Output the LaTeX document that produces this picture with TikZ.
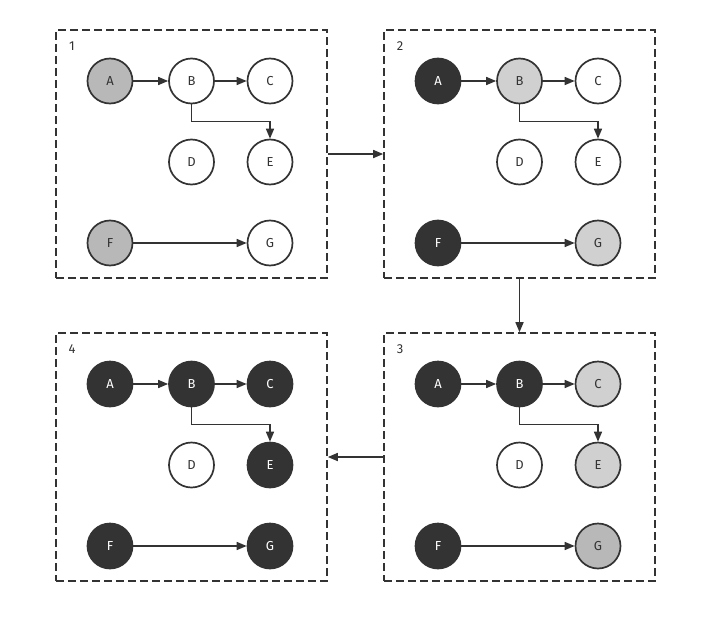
\documentclass[tikz,border=0pt]{standalone}
\usepackage{fontspec}
\setmainfont{Fira Sans}
\usetikzlibrary{arrows.meta}
\definecolor{ink}{HTML}{333333}
\definecolor{midgray}{HTML}{B8B8B8}
\definecolor{lightgray}{HTML}{D0D0D0}
\newcommand\panelbody[2]{%
  \node[panelbox] (box#1) at (191.5,154) {};
  \node[plabel] (lab#1) at (72,46) {#2};
  \node[sA] (A#1) at (110,81) {A};
  \node[sB] (B#1) at (191.5,81) {B};
  \node[sC] (C#1) at (270,81) {C};
  \node[sD] (D#1) at (191.5,162) {D};
  \node[sE] (E#1) at (270,162) {E};
  \node[sF] (F#1) at (110,243) {F};
  \node[sG] (G#1) at (270,243) {G};
  \coordinate (k#1) at (270,121.5);
  \draw[arr] (A#1) -- (B#1);
  \draw[arr] (B#1) -- (C#1);
  \draw[arr] (B#1) |- (k#1) -- (E#1);
  \draw[arr] (F#1) -- (G#1);
}
\begin{document}
\begin{tikzpicture}[x=1pt,y=-1pt,
  font=\fontsize{13}{15}\selectfont,
  circ/.style={circle,draw=ink,line width=1.7pt,minimum size=45pt,inner sep=0pt},
  wnode/.style={circ,fill=white,text=ink},
  gnode/.style={circ,fill=midgray,text=ink},
  lnode/.style={circ,fill=lightgray,text=ink},
  dnode/.style={circ,fill=ink,text=white},
  panelbox/.style={draw=ink,line width=1.6pt,dash pattern=on 8pt off 4pt,minimum width=271pt,minimum height=248pt,inner sep=0pt},
  plabel/.style={text=ink,inner sep=0pt},
  arr/.style={draw=ink,line width=1.6pt,-{Triangle[length=10pt,width=8pt]}},
  sA/.style=wnode,sB/.style=wnode,sC/.style=wnode,sD/.style=wnode,
  sE/.style=wnode,sF/.style=wnode,sG/.style=wnode]
\useasboundingbox (0,0) rectangle (720,621);
\begin{scope}[sA/.style=gnode,sF/.style=gnode]
  \panelbody{1}{1}
\end{scope}
\begin{scope}[shift={(328,0)},sA/.style=dnode,sF/.style=dnode,sB/.style=lnode,sG/.style=lnode]
  \panelbody{2}{2}
\end{scope}
\begin{scope}[shift={(328,303)},sA/.style=dnode,sF/.style=dnode,sB/.style=dnode,sC/.style=lnode,sE/.style=lnode,sG/.style=gnode]
  \panelbody{3}{3}
\end{scope}
\begin{scope}[shift={(0,303)},sA/.style=dnode,sF/.style=dnode,sB/.style=dnode,sC/.style=dnode,sE/.style=dnode,sG/.style=dnode]
  \panelbody{4}{4}
\end{scope}
\draw[arr] (box1.east) -- (box2.west);
\draw[arr] (box2.south) -- (box3.north);
\draw[arr] (box3.west) -- (box4.east);
\end{tikzpicture}
\end{document}
